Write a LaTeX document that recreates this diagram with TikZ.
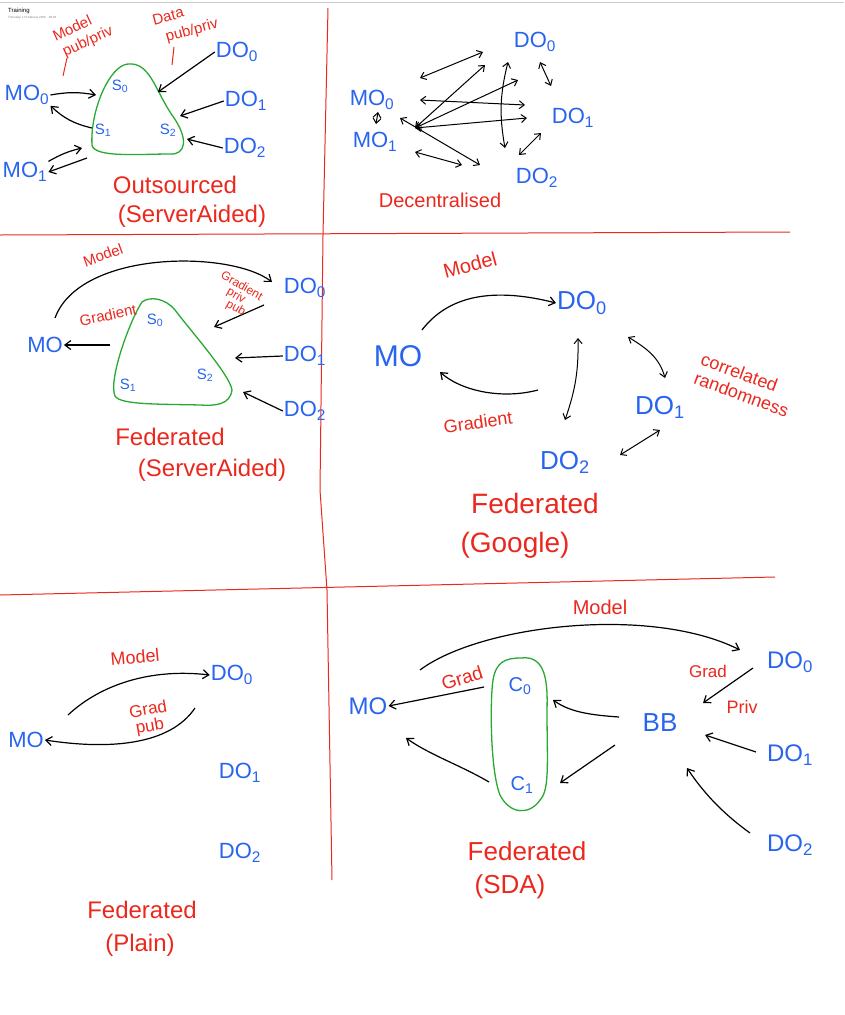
\documentclass[tikz,border=0pt]{standalone}
\usepackage{fontspec}
\setmainfont{Liberation Sans}
\usetikzlibrary{arrows.meta}
\definecolor{bl}{RGB}{40,100,240}
\definecolor{rd}{RGB}{235,40,30}
\definecolor{gr}{RGB}{40,170,50}
\newcommand{\sbx}[1]{\textsubscript{#1}}
\tikzset{
  ag/.style={text=bl,font=\fontsize{22}{24}\selectfont,inner sep=1pt},
  sm/.style={text=bl,font=\fontsize{15}{17}\selectfont,inner sep=1pt},
  lb/.style={text=rd,font=\fontsize{15}{17}\selectfont,inner sep=1pt},
  tt/.style={text=rd,font=\fontsize{24}{30}\selectfont,inner sep=1pt,align=center},
  ar/.style={draw=black,line width=1.2pt,-{Straight Barb[length=6pt,width=9pt]}},
  ar2/.style={draw=black,line width=1pt,{Straight Barb[length=5pt,width=8pt]}-{Straight Barb[length=5pt,width=8pt]}},
  dv/.style={draw=rd,line width=1pt},
  grp/.style={draw=gr,line width=1.3pt}
}
\begin{document}
\begin{tikzpicture}[x=1pt,y=-1pt]
\useasboundingbox[fill=white] (0,0) rectangle (844,1015);
\draw[gray!40] (0,2) -- (844,2);
% dividers
\draw[dv] (328,8) -- (323,235) -- (320,490) -- (327,590) -- (332,880);
\draw[dv] (0,235) -- (790,232);
\draw[dv] (0,595) -- (775,577);
\node[anchor=west,font=\fontsize{6}{7}\selectfont,inner sep=0] (title) at (8,11) {Training};
\node[anchor=west,font=\fontsize{3}{4}\selectfont,text=gray,inner sep=0] (date) at (8,18) {Thursday, 13 February 2020\quad 09:33};

% ---------- panel 1 ----------
\node[ag] (a1mo0) at (27,95) {MO\sbx{0}};
\node[ag] (a1mo1) at (25,172) {MO\sbx{1}};
\node[sm] (s0) at (120,86) {S\sbx{0}};
\node[sm] (s1) at (103,130) {S\sbx{1}};
\node[sm] (s2) at (168,130) {S\sbx{2}};
\draw[grp] (92,145) .. controls (90,110) and (110,65) .. (128,64) .. controls (150,62) and (155,90) .. (172,115) .. controls (190,140) and (185,155) .. (170,154) .. controls (140,154) and (94,158) .. (92,145) -- cycle;
\coordinate (g1l) at (96,95);
\node[ag] (a1d0) at (237,52) {DO\sbx{0}};
\node[ag] (a1d1) at (246,101) {DO\sbx{1}};
\node[ag] (a1d2) at (245,148) {DO\sbx{2}};
\draw[ar] (a1mo0.east) to[bend left=10] (g1l);
\draw[ar] (92,128) to[bend left=15] (a1mo0.south east);
\draw[ar] (a1mo1.north east) to[bend left=8] (82,148);
\draw[ar] (87,158) -- (a1mo1.east);
\draw[ar] (a1d0.west) -- (158,92);
\draw[ar] (a1d1.west) -- (180,116);
\draw[ar] (a1d2.west) -- (187,139);
\node[lb,rotate=25] (l1m) at (72,28) {Model};
\node[lb,rotate=25] (l1p) at (88,42) {pub/priv};
\node[lb,rotate=15] (l1d) at (168,16) {Data};
\node[lb,rotate=15] (l1dp) at (192,31) {pub/priv};
\draw[rd,line width=1pt] (63,76) -- (67,58);
\draw[rd,line width=1pt] (172,65) -- (174,47);
\node[tt] (t1a) at (175,185) {Outsourced};
\node[tt] (t1b) at (192,216) {(ServerAided)};

% ---------- panel 2 ----------
\node[ag] (b_d0) at (535,42) {DO\sbx{0}};
\node[ag] (b_m0) at (372,100) {MO\sbx{0}};
\node[ag] (b_m1) at (375,142) {MO\sbx{1}};
\node[ag] (b_d1) at (573,118) {DO\sbx{1}};
\node[ag] (b_d2) at (537,178) {DO\sbx{2}};
\node[tt,font=\fontsize{20}{24}\selectfont] (t2) at (440,200) {Decentralised};
\coordinate (hub) at (415,128);
\draw[ar2] (420,78) -- (483,52);
\draw[ar2] (420,100) -- (525,105);
\draw[ar2] (hub) -- (485,65);
\draw[ar2] (hub) -- (518,80);
\draw[ar2] (hub) -- (527,118);
\draw[ar2] (400,118) -- (480,165);
\draw[ar2] (415,152) -- (462,165);
\draw[ar2] (505,148) to[bend left=12] (508,62);
\draw[ar2] (540,62) -- (551,86);
\draw[ar2] (541,133) -- (519,155);
\draw[ar2] (378,112) -- (376,124);

% ---------- panel 3 ----------
\node[ag] (c_mo) at (45,345) {MO};
\node[sm] (cs0) at (155,320) {S\sbx{0}};
\node[sm] (cs1) at (128,385) {S\sbx{1}};
\node[sm] (cs2) at (205,375) {S\sbx{2}};
\draw[grp] (115,396) .. controls (108,380) and (130,320) .. (142,302) .. controls (150,296) and (165,298) .. (175,310) .. controls (190,330) and (230,375) .. (232,390) .. controls (230,405) and (215,406) .. (200,405) .. controls (160,404) and (120,405) .. (115,396) -- cycle;
\node[ag] (c_d0) at (305,288) {DO\sbx{0}};
\node[ag] (c_d1) at (305,356) {DO\sbx{1}};
\node[ag] (c_d2) at (305,411) {DO\sbx{2}};
\draw[ar] (55,318) .. controls (80,250) and (230,250) .. (272,282);
\draw[ar] (110,345) -- (c_mo.east);
\draw[ar] (264,305) -- (214,327);
\draw[ar] (c_d1.west) -- (235,358);
\draw[ar] (c_d2.west) -- (243,392);
\node[lb,rotate=20] (cl1) at (103,255) {Model};
\node[lb,rotate=12] (cl2) at (108,315) {Gradient};
\node[lb,font=\fontsize{12}{13}\selectfont,rotate=-30,align=center] (cl3) at (236,296) {Gradient\\[-2pt]priv\\[-2pt]\quad pub};
\node[tt] (t3a) at (170,437) {Federated};
\node[tt] (t3b) at (212,470) {(ServerAided)};

% ---------- panel 4 ----------
\node[ag,font=\fontsize{30}{32}\selectfont] (d_mo) at (398,356) {MO};
\node[ag,font=\fontsize{26}{28}\selectfont] (d_d0) at (582,303) {DO\sbx{0}};
\node[ag,font=\fontsize{26}{28}\selectfont] (d_d1) at (660,407) {DO\sbx{1}};
\node[ag,font=\fontsize{26}{28}\selectfont] (d_d2) at (565,462) {DO\sbx{2}};
\draw[ar] (422,330) .. controls (445,300) and (485,285) .. (d_d0.west);
\draw[ar] (538,390) .. controls (500,400) and (460,390) .. (440,372);
\draw[ar2] (578,338) to[bend left=10] (565,420);
\draw[ar2] (628,337) .. controls (650,350) and (660,360) .. (665,378);
\draw[ar2] (620,455) -- (660,430);
\node[lb,font=\fontsize{20}{22}\selectfont,rotate=15] (dl1) at (470,265) {Model};
\node[lb,font=\fontsize{18}{20}\selectfont,rotate=8] (dl2) at (478,422) {Gradient};
\node[lb,font=\fontsize{18}{20}\selectfont,rotate=-20,align=left] (dl3) at (745,385) {correlated\\randomness};
\node[tt,font=\fontsize{28}{34}\selectfont] (t4a) at (535,503) {Federated};
\node[tt,font=\fontsize{28}{34}\selectfont] (t4b) at (515,545) {(Google)};

% ---------- panel 5 ----------
\node[ag] (e_mo) at (26,740) {MO};
\node[ag] (e_d0) at (232,675) {DO\sbx{0}};
\node[ag] (e_d1) at (240,773) {DO\sbx{1}};
\node[ag] (e_d2) at (240,853) {DO\sbx{2}};
\draw[ar] (68,715) .. controls (100,685) and (150,668) .. (e_d0.west);
\draw[ar] (195,708) .. controls (170,745) and (110,750) .. (e_mo.east);
\node[lb,font=\fontsize{18}{20}\selectfont,rotate=5] (el1) at (135,657) {Model};
\node[lb,font=\fontsize{17}{19}\selectfont,rotate=10] (el2) at (148,709) {Grad};
\node[lb,font=\fontsize{17}{19}\selectfont,rotate=10] (el3) at (150,727) {pub};
\node[tt] (t5a) at (142,910) {Federated};
\node[tt] (t5b) at (140,945) {(Plain)};

% ---------- panel 6 ----------
\node[ag,font=\fontsize{24}{26}\selectfont] (f_mo) at (368,706) {MO};
\node[sm,font=\fontsize{20}{22}\selectfont] (c0) at (520,686) {C\sbx{0}};
\node[sm,font=\fontsize{20}{22}\selectfont] (c1) at (522,785) {C\sbx{1}};
\draw[grp] (521,658) .. controls (545,655) and (548,680) .. (547,710) .. controls (547,760) and (550,790) .. (540,800) .. controls (530,815) and (510,815) .. (500,795) .. controls (490,770) and (490,700) .. (493,680) .. controls (496,662) and (505,658) .. (521,658) -- cycle;
\node[ag,font=\fontsize{26}{28}\selectfont] (bb) at (660,723) {BB};
\node[ag,font=\fontsize{24}{26}\selectfont] (f_d0) at (790,662) {DO\sbx{0}};
\node[ag,font=\fontsize{24}{26}\selectfont] (f_d1) at (790,755) {DO\sbx{1}};
\node[ag,font=\fontsize{24}{26}\selectfont] (f_d2) at (790,845) {DO\sbx{2}};
\draw[ar] (420,670) .. controls (480,625) and (650,605) .. (740,650);
\draw[ar] (484,687) -- (f_mo.east);
\draw[ar] (489,782) .. controls (460,765) and (430,755) .. (406,738);
\draw[ar] (619,717) .. controls (590,715) and (570,712) .. (553,700);
\draw[ar] (615,745) -- (560,783);
\draw[ar] (753,668) -- (703,703);
\draw[ar] (756,752) -- (705,735);
\draw[ar] (750,833) .. controls (725,815) and (705,795) .. (687,768);
\node[lb,font=\fontsize{20}{22}\selectfont] (fl1) at (600,607) {Model};
\node[lb,font=\fontsize{19}{21}\selectfont,rotate=18] (fl2) at (462,678) {Grad};
\node[lb,font=\fontsize{17}{19}\selectfont] (fl3) at (708,671) {Grad};
\node[lb,font=\fontsize{18}{20}\selectfont] (fl4) at (742,707) {Priv};
\node[tt,font=\fontsize{26}{30}\selectfont] (t6a) at (527,851) {Federated};
\node[tt,font=\fontsize{26}{30}\selectfont] (t6b) at (510,887) {(SDA)};
\end{tikzpicture}
\end{document}
